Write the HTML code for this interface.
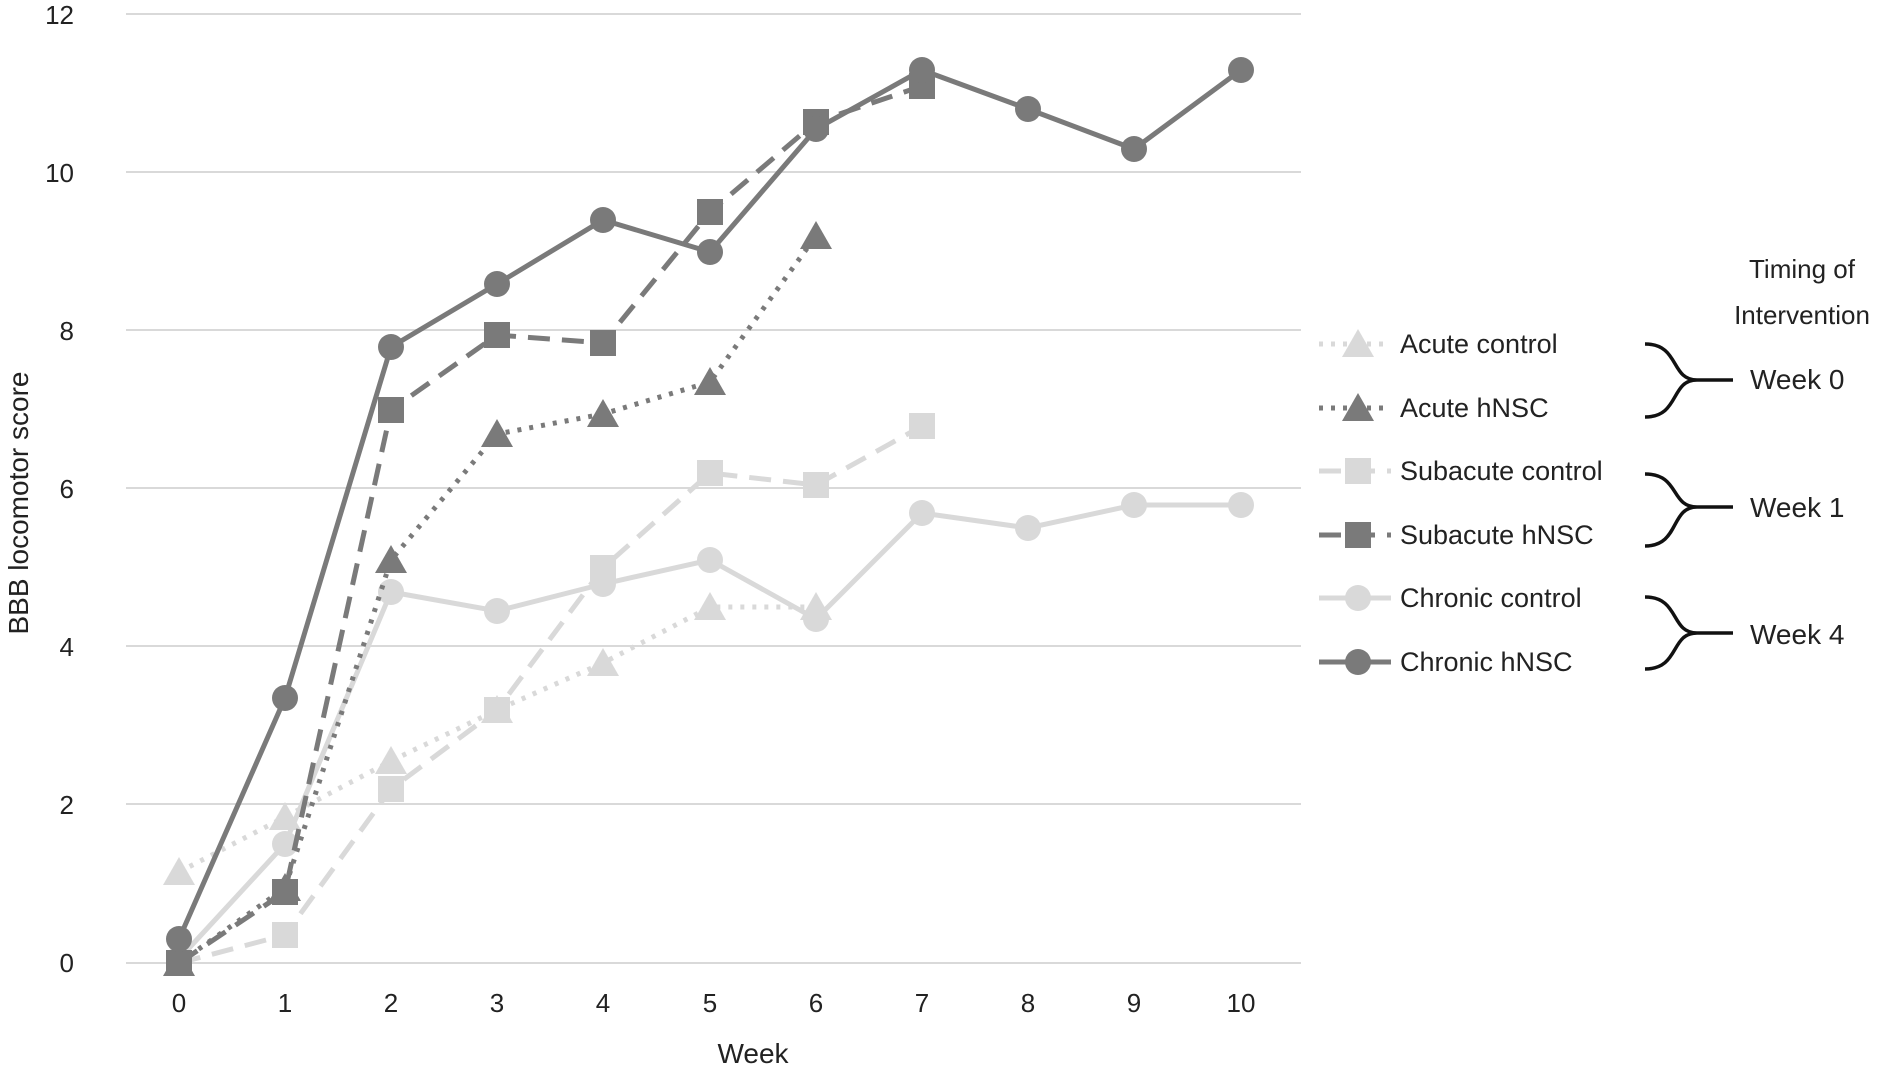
<!DOCTYPE html>
<html><head><meta charset="utf-8"><style>html,body{margin:0;padding:0;background:#fff}svg{display:block}text{font-family:"Liberation Sans",sans-serif;fill:#222}</style></head>
<body>
<svg width="1880" height="1065" viewBox="0 0 1880 1065" xmlns="http://www.w3.org/2000/svg">
<g stroke="#d9d9d9" stroke-width="2">
<line x1="126" x2="1301" y1="14" y2="14"/>
<line x1="126" x2="1301" y1="172" y2="172"/>
<line x1="126" x2="1301" y1="330" y2="330"/>
<line x1="126" x2="1301" y1="488" y2="488"/>
<line x1="126" x2="1301" y1="646" y2="646"/>
<line x1="126" x2="1301" y1="804" y2="804"/>
<line x1="126" x2="1301" y1="963" y2="963"/>
</g>
<g font-size="26" text-anchor="end">
<text x="74" y="972">0</text><text x="74" y="814">2</text><text x="74" y="656">4</text><text x="74" y="498">6</text><text x="74" y="340">8</text><text x="74" y="182">10</text><text x="74" y="24">12</text>
</g>
<g font-size="26" text-anchor="middle">
<text x="179" y="1012">0</text><text x="285" y="1012">1</text><text x="391" y="1012">2</text><text x="497" y="1012">3</text><text x="603" y="1012">4</text><text x="710" y="1012">5</text><text x="816" y="1012">6</text><text x="922" y="1012">7</text><text x="1028" y="1012">8</text><text x="1134" y="1012">9</text><text x="1241" y="1012">10</text>
<text x="753" y="1063" font-size="28">Week</text>
</g>
<text transform="translate(28,503) rotate(-90)" font-size="28" text-anchor="middle">BBB locomotor score</text>
<defs>
<polygon id="tri" points="0,-15 16,13 -16,13"/>
<rect id="sq" x="-13" y="-13" width="26" height="26"/>
<circle id="ci" r="13"/>
</defs>
<g fill="none" stroke="#d9d9d9" stroke-width="5">
<polyline stroke-dasharray="4,8" points="179,872 285,817 391,761 497,710 603,663 710,607 816,607"/>
<polyline stroke-dasharray="22,12" points="179,963 285,935 391,789 497,710 603,568 710,473 816,485 922,426"/>
<polyline points="179,959 285,844 391,592 497,611 603,584 710,560 816,619 922,513 1028,528 1134,505 1241,505"/>
</g>
<g fill="#d9d9d9">
<use href="#tri" x="179" y="872"/><use href="#tri" x="285" y="817"/><use href="#tri" x="391" y="761"/><use href="#tri" x="497" y="710"/><use href="#tri" x="603" y="663"/><use href="#tri" x="710" y="607"/><use href="#tri" x="816" y="607"/>
<use href="#sq" x="179" y="963"/><use href="#sq" x="285" y="935"/><use href="#sq" x="391" y="789"/><use href="#sq" x="497" y="710"/><use href="#sq" x="603" y="568"/><use href="#sq" x="710" y="473"/><use href="#sq" x="816" y="485"/><use href="#sq" x="922" y="426"/>
<use href="#ci" x="179" y="959"/><use href="#ci" x="285" y="844"/><use href="#ci" x="391" y="592"/><use href="#ci" x="497" y="611"/><use href="#ci" x="603" y="584"/><use href="#ci" x="710" y="560"/><use href="#ci" x="816" y="619"/><use href="#ci" x="922" y="513"/><use href="#ci" x="1028" y="528"/><use href="#ci" x="1134" y="505"/><use href="#ci" x="1241" y="505"/>
</g>
<g fill="none" stroke="#7a7a7a" stroke-width="5">
<polyline stroke-dasharray="4,8" points="179,963 285,888 391,560 497,434 603,414 710,382 816,236"/>
<polyline stroke-dasharray="22,12" points="179,963 285,892 391,410 497,335 603,343 710,212 816,122 922,86"/>
<polyline points="179,939 285,698 391,347 497,284 603,220 710,252 816,129 922,70 1028,109 1134,149 1241,70"/>
</g>
<g fill="#7a7a7a">
<use href="#tri" x="179" y="963"/><use href="#tri" x="285" y="888"/><use href="#tri" x="391" y="560"/><use href="#tri" x="497" y="434"/><use href="#tri" x="603" y="414"/><use href="#tri" x="710" y="382"/><use href="#tri" x="816" y="236"/>
<use href="#sq" x="179" y="963"/><use href="#sq" x="285" y="892"/><use href="#sq" x="391" y="410"/><use href="#sq" x="497" y="335"/><use href="#sq" x="603" y="343"/><use href="#sq" x="710" y="212"/><use href="#sq" x="816" y="122"/><use href="#sq" x="922" y="86"/>
<use href="#ci" x="179" y="939"/><use href="#ci" x="285" y="698"/><use href="#ci" x="391" y="347"/><use href="#ci" x="497" y="284"/><use href="#ci" x="603" y="220"/><use href="#ci" x="710" y="252"/><use href="#ci" x="816" y="129"/><use href="#ci" x="922" y="70"/><use href="#ci" x="1028" y="109"/><use href="#ci" x="1134" y="149"/><use href="#ci" x="1241" y="70"/>
</g>
<g stroke-width="5" fill="none">
<line x1="1319" x2="1391" y1="344" y2="344" stroke="#d9d9d9" stroke-dasharray="4,8"/>
<line x1="1319" x2="1391" y1="408" y2="408" stroke="#7a7a7a" stroke-dasharray="4,8"/>
<line x1="1319" x2="1391" y1="471" y2="471" stroke="#d9d9d9" stroke-dasharray="22,12"/>
<line x1="1319" x2="1391" y1="535" y2="535" stroke="#7a7a7a" stroke-dasharray="22,12"/>
<line x1="1319" x2="1391" y1="598" y2="598" stroke="#d9d9d9"/>
<line x1="1319" x2="1391" y1="662" y2="662" stroke="#7a7a7a"/>
</g>
<use href="#tri" x="1358" y="344" fill="#d9d9d9"/><use href="#tri" x="1358" y="408" fill="#7a7a7a"/>
<use href="#sq" x="1358" y="471" fill="#d9d9d9"/><use href="#sq" x="1358" y="535" fill="#7a7a7a"/>
<use href="#ci" x="1358" y="598" fill="#d9d9d9"/><use href="#ci" x="1358" y="662" fill="#7a7a7a"/>
<g font-size="27">
<text x="1400" y="353">Acute control</text><text x="1400" y="417">Acute hNSC</text>
<text x="1400" y="480">Subacute control</text><text x="1400" y="544">Subacute hNSC</text>
<text x="1400" y="607">Chronic control</text><text x="1400" y="671">Chronic hNSC</text>
</g>
<g fill="none" stroke="#111" stroke-width="3.5">
<path d="M1645,344 C1680,344 1670,380 1697,380 C1670,380 1680,417 1645,417 M1697,380 H1733"/>
<path d="M1645,474 C1680,474 1670,507 1697,507 C1670,507 1680,546 1645,546 M1697,507 H1733"/>
<path d="M1645,597 C1680,597 1670,633 1697,633 C1670,633 1680,669 1645,669 M1697,633 H1733"/>
</g>
<g font-size="28">
<text x="1750" y="389">Week 0</text><text x="1750" y="517">Week 1</text><text x="1750" y="644">Week 4</text>
</g>
<g font-size="26" text-anchor="middle">
<text x="1802" y="278">Timing of</text><text x="1802" y="324">Intervention</text>
</g>
</svg>
</body></html>
